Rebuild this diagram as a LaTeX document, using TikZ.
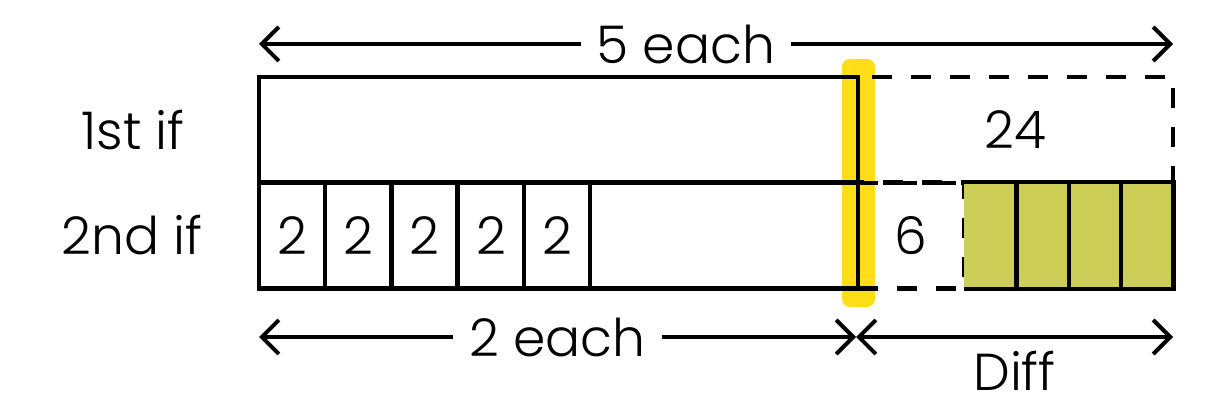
\documentclass[tikz,border=0pt]{standalone}
\usepackage{fontspec}
\setmainfont{Poppins Light}
\usetikzlibrary{arrows.meta, positioning}
\definecolor{hlyellow}{RGB}{255,222,23}
\definecolor{diffgreen}{RGB}{205,206,88}
\tikzset{>={Straight Barb[length=8.5pt, width=17pt]}}
\tikzset{
	bar/.style={draw, line width=2.2pt, inner sep=0pt, minimum height=53pt, font=\fontsize{26}{30}\selectfont},
	dashbar/.style={bar, dash pattern=on 10pt off 9.5pt},
	greencell/.style={fill=diffgreen, inner sep=0pt, minimum width=26.1pt, minimum height=53pt},
	dim/.style={<->, line width=2pt},
	lbl/.style={font=\fontsize{26}{30}\selectfont, fill=white, inner xsep=8pt, inner ysep=1pt},
}

\begin{document}
\begin{tikzpicture}[x=0.5pt, y=-0.5pt]
	\useasboundingbox (0,0) rectangle (1230,400);

	\coordinate (TL) at (259,44);
	\coordinate (TR) at (1173,44);
	\coordinate (BL) at (259,337);
	\coordinate (BM) at (856,337);
	\coordinate (BR) at (1173,337);
	\draw[dim] (TL) -- node[lbl, pos=0.467]{5 each} (TR);
	\draw[dim] (BL) -- node[lbl, midway]{2 each} (BM);
	\draw[dim] (BM) -- node[font=\fontsize{26}{30}\selectfont, midway, below, inner sep=0pt, text depth=0pt, yshift=-6pt]{Diff} (BR);

	\node[fill=hlyellow, rounded corners=4pt, minimum width=16.5pt, minimum height=124pt, inner sep=0pt] (hl) at (858.5,183) {};

	\node[dashbar, minimum width=157.5pt] (D24) at (1015.5,130) {24};
	\node[dashbar, minimum width=53pt] (D6) at (911,235.5) {6};

	\node[greencell] (G1) at (990.1,235.5) {};
	\node[greencell] (G2) at (1042.4,235.5) {};
	\node[greencell] (G3) at (1094.6,235.5) {};
	\node[greencell] (G4) at (1146.9,235.5) {};
	\draw[line width=2.2pt] (G1.north west) -- (G4.north east) -- (G4.south east) -- (G1.south west);
	\draw[line width=2.2pt] (G1.north east) -- (G1.south east);
	\draw[line width=2.2pt] (G2.north east) -- (G2.south east);
	\draw[line width=2.2pt] (G3.north east) -- (G3.south east);

	\node[bar, minimum width=299.5pt] (first) at (558.5,130) {};
	\node[bar, minimum width=33pt] (C1) at (292,235.5) {2};
	\node[bar, minimum width=33pt] (C2) at (358,235.5) {2};
	\node[bar, minimum width=33pt] (C3) at (424.5,235.5) {2};
	\node[bar, minimum width=33pt] (C4) at (491,235.5) {2};
	\node[bar, minimum width=33pt] (C5) at (557,235.5) {2};
	\node[bar, minimum width=134pt] (rest) at (724,235.5) {};

	\node[font=\fontsize{26}{30}\selectfont] (first label) at (133,130) {1st if};
	\node[font=\fontsize{26}{30}\selectfont] (second label) at (132,235) {2nd if};
\end{tikzpicture}
\end{document}
